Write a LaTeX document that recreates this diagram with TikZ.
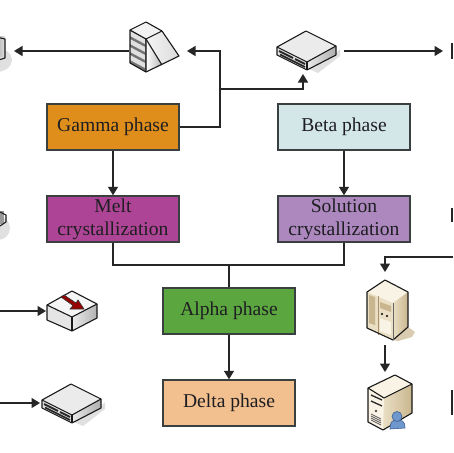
\documentclass[tikz,border=0pt]{standalone}
\usepackage{fontspec}
\setmainfont{Liberation Serif}
\usetikzlibrary{arrows.meta,calc}
\definecolor{edgeC}{HTML}{3A3F40}
\definecolor{inkC}{HTML}{1E1E22}
\definecolor{gammaC}{HTML}{E08E1B}
\definecolor{betaC}{HTML}{D3E6E8}
\definecolor{meltC}{HTML}{AE4495}
\definecolor{solC}{HTML}{AC88BE}
\definecolor{alphaC}{HTML}{5BA63F}
\definecolor{deltaC}{HTML}{F2C08F}
\definecolor{beigeA}{HTML}{F8F3E4}
\definecolor{beigeB}{HTML}{EADFC4}
\definecolor{beigeC}{HTML}{C9B68E}
\definecolor{beigeD}{HTML}{A8906A}
\definecolor{userC}{HTML}{6E97CE}
\definecolor{userD}{HTML}{3F5F8F}
\tikzset{
  phase/.style={draw=edgeC,line width=1.4pt,minimum width=132pt,minimum height=46pt,inner sep=0pt,
    align=center,text=inkC,font=\fontsize{19.6}{23}\selectfont},
  link/.style={draw=black!85,line width=1.4pt},
  tipped/.style={link,-{Triangle[length=8.5pt,width=10pt]}},
  iconline/.style={draw=black!90,line width=1.1pt,line join=round},
  shadowS/.style={fill=black!12,draw=none},
  hub/.pic={
    \fill[shadowS] (3,38) -- (30,22) -- (34,18) -- (34,25) -- (12,42) -- cycle;
    \fill[white!92!black] (0,0) -- (30,15) -- (1,31) -- (-29,16) -- cycle;
    \shade[left color=black!8,right color=black!32] (1,31) -- (30,15) -- (30,24) -- (1,39) -- cycle;
    \fill[black!12] (-29,16) -- (1,31) -- (1,39) -- (-29,24) -- cycle;
    \draw[iconline] (0,0) -- (30,15) -- (30,24) -- (1,39) -- (-29,24) -- (-29,16) -- cycle;
    \draw[iconline] (-29,16) -- (1,31) -- (30,15);
    \draw[iconline] (1,31) -- (1,39);
    \draw[line width=2pt,black!85] (-27,20) -- (-13,27);
    \draw[line width=2pt,black!85] (-11,28) -- (-1,33);
    \draw[line width=1.6pt,black!85] (-26,23.5) -- (-1,36);
  },
  cylL/.pic={
    \fill[shadowS] (-4,16) circle[x radius=16pt,y radius=12pt];
    \shade[left color=black!40,right color=black!12] (-8,-8) rectangle (5,12);
    \draw[iconline] (-8,-8) -- (5,-5) -- (5,14) -- (-8,18);
  }
}
\begin{document}
\begin{tikzpicture}[x=1pt,y=-1pt]
\useasboundingbox (0,0) rectangle (453,453);
\clip (0,0) rectangle (453,453);
\fill[white] (0,0) rectangle (453,453);

% phase boxes
\node[phase,fill=gammaC] (gamma) at (113,127) {Gamma phase};
\node[phase,fill=betaC] (beta) at (344,127) {Beta phase};
\node[phase,fill=meltC] (melt) at (113,219) {Melt\\crystallization};
\node[phase,fill=solC] (sol) at (344,219) {Solution\\crystallization};
\node[phase,fill=alphaC] (alpha) at (229,311) {Alpha phase};
\node[phase,fill=deltaC] (delta) at (229,403) {Delta phase};

% icon anchor points
\coordinate (cabinL) at (129,51);
\coordinate (cabinR) at (187,51);
\coordinate (cylTip) at (14,51);
\coordinate (hubB) at (303,74);
\coordinate (hubR) at (344,51);
\coordinate (edgeR) at (443,51);
\coordinate (split) at (220,89);
\coordinate (elbow) at (220,127);
\coordinate (elbowTop) at (220,51);
\coordinate (mid) at (229,265);
\coordinate (leftA) at (0,311);
\coordinate (redTip) at (46,311);
\coordinate (leftB) at (0,403);
\coordinate (hubTip) at (40,403);
\coordinate (rightE) at (453,257);
\coordinate (rackTop) at (385,272);
\coordinate (rackBot) at (385,345);
\coordinate (towerTop) at (385,372);

% connectors
\draw[tipped] (gamma.east) -- (elbow) -- (elbowTop) -- (cabinR);
\draw[tipped] (split) -- (split -| hubB) -- (hubB);
\draw[tipped] (cabinL) -- (cylTip);
\draw[tipped] (hubR) -- (edgeR);
\draw[tipped] (gamma) -- (melt);
\draw[tipped] (beta) -- (sol);
\draw[link] (melt.south) |- (mid) -| (sol.south);
\draw[link] (mid) -- (alpha.north);
\draw[tipped] (alpha) -- (delta);
\draw[tipped] (leftA) -- (redTip);
\draw[tipped] (leftB) -- (hubTip);
\draw[tipped] (rightE) -| (rackTop);
\draw[tipped] (rackBot) -- (towerTop);

% edge fragments
\pic at (0,44) {cylL};
\fill[shadowS] (-2,228) circle[x radius=12pt,y radius=12pt];
\fill[black!40] (-2,211) rectangle (4,224);
\draw[iconline] (0,212) -- (6,215) -- (6,222) -- (0,226);
\fill[black!85] (451,43) rectangle (453,59);
\fill[black!85] (451,208) rectangle (453,222);
\fill[black!85] (451,390) rectangle (453,415);

% cabinet icon
\fill[black!5] (130,30) -- (146,22) -- (162,31) -- (146,39) -- cycle;
\shade[left color=black!4,right color=black!14] (146,39) -- (162,31) -- (179,56) -- (162,65) -- cycle;
\shade[left color=white,right color=black!28] (146,39) -- (162,65) -- (146,72) -- cycle;
\fill[black!55] (130,30) -- (146,39) -- (146,72) -- (130,63) -- cycle;
\foreach \k in {0,1,2,3}{
  \fill[black!12] (130,{31+8*\k}) -- (145,{39+8*\k}) -- (145,{44+8*\k}) -- (130,{36+8*\k}) -- cycle;
}
\draw[iconline] (130,30) -- (146,22) -- (162,31) -- (179,56) -- (146,72) -- (130,63) -- cycle;
\draw[iconline] (130,30) -- (146,39) -- (146,72);
\draw[iconline] (146,39) -- (162,31);
\draw[iconline] (146,39) -- (162,65);

% rack hubs
\pic at (306,31) {hub};
\pic at (71,384) {hub};

% arrow switch
\fill[black!4] (72,291) -- (97,304) -- (72,317) -- (47,305) -- cycle;
\shade[left color=black!8,right color=black!30] (72,317) -- (97,304) -- (97,318) -- (72,331) -- cycle;
\fill[black!10] (47,305) -- (72,317) -- (72,331) -- (47,320) -- cycle;
\draw[iconline] (72,291) -- (97,304) -- (97,318) -- (72,331) -- (47,320) -- (47,305) -- cycle;
\draw[iconline] (47,305) -- (72,317) -- (97,304);
\draw[iconline] (72,317) -- (72,331);
\fill[red!60!black,draw=black!80,line width=.6pt] (61,297) -- (64,295) -- (76,303) -- (78,300) -- (84,309) -- (70,309) -- (73,305.5) -- cycle;

% beige rack
\fill[beigeC!70] (393,340) -- (408,327) -- (415,332) -- (412,337) -- (398,341) -- cycle;
\fill[beigeA] (367,292) -- (385,280) -- (408,292) -- (393,303) -- cycle;
\shade[left color=beigeB,right color=beigeC] (393,303) -- (408,292) -- (408,327) -- (393,340) -- cycle;
\fill[beigeB] (367,292) -- (393,303) -- (393,340) -- (367,328) -- cycle;
\fill[beigeC] (369,295) -- (375,297) -- (375,325) -- (369,323) -- cycle;
\draw[beigeD,line width=.7pt] (378,296) -- (378,335);
\fill[beigeC] (380,302) -- (391,306) -- (391,312) -- (380,308) -- cycle;
\fill[beigeA] (380,318) -- (391,322) -- (391,335) -- (380,331) -- cycle;
\fill[black] (382,314) circle (1.2pt) (387,316) circle (1.2pt);
\draw[iconline] (385,280) -- (408,292) -- (408,327) -- (393,340) -- (367,328) -- (367,292) -- cycle;
\draw[black!60,line width=.6pt] (393,303) -- (393,340);

% beige tower
\fill[beigeA] (368,388) -- (395,375) -- (412,384) -- (384,398) -- cycle;
\shade[left color=beigeB,right color=beigeC] (384,398) -- (412,384) -- (412,413) -- (383,430) -- cycle;
\fill[beigeA] (368,388) -- (384,398) -- (383,430) -- (368,422) -- cycle;
\draw[line width=1.3pt,black!85] (371,395) -- (382,400);
\draw[line width=1.3pt,black!85] (371,401) -- (382,406);
\fill[black!70] (376,411) circle (1.3pt);
\foreach \k in {0,1,2,3}{
  \draw[black!65,line width=.7pt] (371,{414+2*\k}) -- (381,{419+2*\k});
}
\draw[iconline] (395,375) -- (412,384) -- (412,413) -- (383,430) -- (368,422) -- (368,388) -- cycle;
\draw[iconline] (368,388) -- (384,398) -- (412,384);
\fill[userC,draw=userD,line width=.6pt] (390,429) .. controls (390,421) and (393,420) .. (397,420) .. controls (402,420) and (405,421) .. (405,428) -- cycle;
\fill[userC,draw=userD,line width=.6pt] (397,416.5) circle (5pt);
\end{tikzpicture}
\end{document}
